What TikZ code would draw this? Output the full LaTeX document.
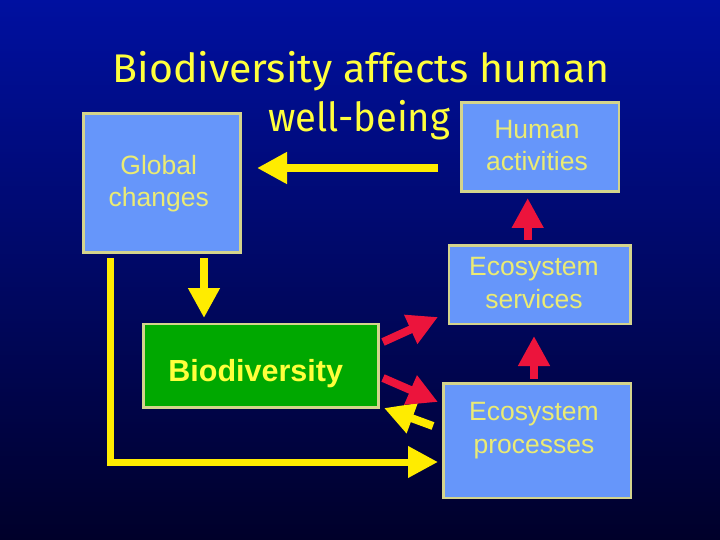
\documentclass[tikz,border=0pt]{standalone}
\usepackage{fontspec}
\setmainfont{Liberation Sans}
\newfontfamily\titlefont{Fira Sans}
\usetikzlibrary{arrows.meta}
\definecolor{bgtop}{RGB}{0,16,160}
\definecolor{bgmid}{RGB}{0,10,112}
\definecolor{bgbot}{RGB}{0,0,42}
\definecolor{boxfill}{RGB}{102,150,250}
\definecolor{boxline}{RGB}{212,212,140}
\definecolor{boxtxt}{RGB}{235,235,115}
\definecolor{biofill}{RGB}{0,168,0}
\definecolor{titletxt}{RGB}{255,255,60}
\definecolor{yarrow}{RGB}{255,236,0}
\definecolor{rarrow}{RGB}{236,20,60}
\begin{document}
\begin{tikzpicture}[x=1pt,y=-1pt,
  box/.style={draw=boxline, line width=2.5pt, fill=boxfill, inner sep=0pt},
  boxtext/.style={text=boxtxt, font=\fontsize{26.5}{32.5}\selectfont, align=center, anchor=base, inner sep=0pt},
  fat/.style={line width=8pt, -{Triangle[length=30pt,width=30pt]}},
  titlestyle/.style={text=titletxt, font=\titlefont\fontsize{40}{48}\selectfont, anchor=base, inner sep=0pt}
]
\useasboundingbox (0,0) rectangle (720,540);
\shade[top color=bgtop, middle color=bgmid, bottom color=bgbot] (0,0) rectangle (720,540);

% title
\node[titlestyle] (title1) at (361,82.7) {\resizebox{497pt}{\height}{Biodiversity affects human}};
\node[titlestyle] (title2) at (359,132) {\resizebox{182pt}{\height}{well-being}};

% boxes
\node[box, minimum width=157.4pt, minimum height=139.4pt] (global) at (162,183) {};
\node[box, minimum width=157.3pt, minimum height=89.4pt] (human) at (540.3,147) {};
\node[box, minimum width=181.7pt, minimum height=78.3pt] (services) at (539.8,284.8) {};
\node[box, minimum width=187.7pt, minimum height=114.7pt] (processes) at (537.1,440.6) {};
\node[box, fill=biofill, minimum width=235pt, minimum height=83.7pt] (bio) at (260.8,365.8) {};

% texts (anchor at the baseline of the last line)
\node[boxtext] (globaltext) at (158.7,206.7) {Global\\changes};
\node[boxtext] (humantext) at (537,171) {Human\\activities};
\node[boxtext] (servicestext) at (534,308) {Ecosystem\\services};
\node[boxtext] (processestext) at (534,453) {Ecosystem\\processes};
\node[text=titletxt, font=\bfseries\fontsize{30.5}{36}\selectfont, anchor=base, inner sep=0pt] (biotext) at (255.7,381.7) {Biodiversity};

% connector end points
\coordinate (hgA) at (438,168);
\coordinate (hgB) at (257,168);
\coordinate (gbA) at (204,258);
\coordinate (gbB) at (204,318);
\coordinate (gpA) at (110.7,258);
\coordinate (gpB) at (438,462);
\coordinate (shA) at (527.7,240);
\coordinate (shB) at (527.7,198);
\coordinate (psA) at (534,379);
\coordinate (psB) at (534,336);
\coordinate (bsA) at (383,342);
\coordinate (bsB) at (438,317);
\coordinate (bpA) at (383,378);
\coordinate (bpB) at (438,402);
\coordinate (pbA) at (433,426);
\coordinate (pbB) at (384,408);

% arrows
\draw[fat, color=yarrow] (hgA) -- (hgB);
\draw[fat, color=yarrow] (gbA) -- (gbB);
\draw[fat, line width=7pt, color=yarrow] (gpA) |- (gpB);
\draw[fat, color=yarrow] (pbA) -- (pbB);
\draw[fat, color=rarrow] (shA) -- (shB);
\draw[fat, color=rarrow] (psA) -- (psB);
\draw[fat, color=rarrow] (bsA) -- (bsB);
\draw[fat, color=rarrow] (bpA) -- (bpB);
\end{tikzpicture}
\end{document}
